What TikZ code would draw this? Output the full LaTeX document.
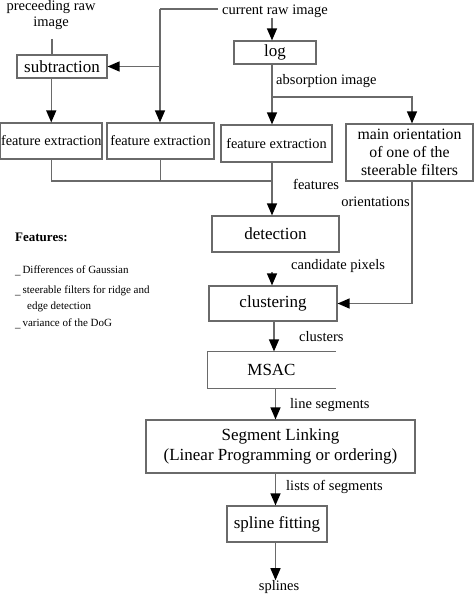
\documentclass[tikz,border=0pt]{standalone}
\usepackage{fontspec}
\setmainfont{Liberation Serif}
\usetikzlibrary{arrows.meta}
\definecolor{lc}{HTML}{6A6A6A}
\newcommand{\lowbar}{\raisebox{-1.5pt}{\_}\,}
\begin{document}
\begin{tikzpicture}[x=1pt,y=-1pt,
  ln/.style={draw=lc, line width=1.3pt},
  arr/.style={ln, -{Triangle[width=10pt,length=12pt,color=black]}},
  box/.style={draw=lc, line width=1.2pt, inner sep=0pt, align=center, font=\fontsize{17}{20}\selectfont},
  sbox/.style={box, font=\fontsize{14.3}{18}\selectfont},
  lab/.style={inner sep=0pt, font=\fontsize{14.5}{16}\selectfont},
  leg/.style={inner sep=0pt, anchor=base west, font=\fontsize{11}{13}\selectfont},
]
\useasboundingbox (0,0) rectangle (474,594);
% x positions of vertical connectors
\coordinate (ax) at (272,0);
\coordinate (ox) at (412,0);
\coordinate (bx) at (275.5,0);
% nodes
\node[lab, align=center, font=\fontsize{14.5}{16}\selectfont] (pre) at (51,15) {preceeding raw\\image};
\node[box, minimum width=90pt, minimum height=23pt] (sub) at (62,66.5) {subtraction};
\node[lab, anchor=west] (cur) at (222,11) {current raw image};
\node[box, minimum width=82pt, minimum height=23pt] (log) at (275,52.5) {log};
\node[sbox, minimum width=101.5pt, minimum height=36pt] (fe1) at (51.25,141) {feature extraction};
\node[sbox, minimum width=107pt, minimum height=36pt] (fe2) at (160.5,141) {feature extraction};
\node[sbox, minimum width=111pt, minimum height=37pt] (fe3) at (276.5,143.5) {feature extraction};
\node[box, font=\fontsize{15.8}{18}\selectfont, minimum width=127pt, minimum height=57pt] (mo) at (409.5,152.5) {main orientation\\of one of the\\steerable filters};
\node[box, minimum width=127pt, minimum height=36pt] (det) at (275.5,234) {detection};
\node[box, minimum width=128pt, minimum height=35pt] (clu) at (273,303.5) {clustering};
\node[box, draw=none, minimum width=127pt, minimum height=36pt] (msac) at (271.5,370) {MSAC};
\node[box, font=\fontsize{17}{20}\selectfont, minimum width=269pt, minimum height=53pt] (seg) at (280.5,446.5) {Segment Linking\\(Linear Programming or ordering)};
\node[box, minimum width=100pt, minimum height=36pt] (spl) at (277,524) {spline fitting};
\node[lab] (splines) at (279,587) {splines};
% labels
\node[lab, anchor=west] (labs) at (276,81) {absorption image};
\node[lab, anchor=west] (lfeat) at (293,184) {features};
\node[lab, anchor=east] (lori) at (410,202) {orientations};
\node[lab, anchor=west] (lcand) at (291,266) {candidate pixels};
\node[lab, anchor=west] (lclus) at (299,337) {clusters};
\node[lab, anchor=west] (lline) at (290,405) {line segments};
\node[lab, anchor=west] (llist) at (286,487) {lists of segments};
% legend
\node[leg, font=\fontsize{13}{15}\selectfont\bfseries] (legt) at (15,241) {Features:};
\node[leg] (leg1) at (15,273) {\lowbar Differences of Gaussian};
\node[leg] (leg2) at (15,293) {\lowbar steerable filters for ridge and};
\node[leg] (leg3) at (27,309) {edge detection};
\node[leg] (leg4) at (15,326) {\lowbar variance of the DoG};
% MSAC box (open on the right)
\draw[ln, line width=1.2pt] (msac.north east) -- (msac.north west) -- (msac.south west) -- (msac.south east);
% connectors
\coordinate (c1) at (218,9);
\coordinate (c2) at (160,9);
\coordinate (p1) at (52,39);
\draw[ln] (p1) -- (sub.north -| p1);
\draw[ln] (c1) -- (c2);
\draw[arr] (c2) -- (fe2.north -| c2);
\draw[arr] (c2 |- sub.east) -- (sub.east);
\draw[arr] (cur.south -| ax) -- (log.north -| ax);
\draw[arr] (sub.south -| fe1.north) -- (fe1.north);
\draw[arr] (log.south -| ax) -- (fe3.north -| ax);
\coordinate (b1) at (272,97);
\draw[arr] (b1) -- (b1 -| ox) -- (mo.north -| ox);
\coordinate (m) at (272,181);
\draw[ln] (fe1.south) -- (fe1.south |- m) -- (m);
\draw[ln] (fe2.south) -- (fe2.south |- m);
\draw[arr] (fe3.south -| ax) -- (det.north -| ax);
\coordinate (dc) at (272,272);
\draw[arr] (dc) -- (clu.north -| dc);
\draw[arr] (mo.south -| ox) -- (clu.east -| ox) -- (clu.east);
\draw[arr] (clu.south -| 274,0) -- (msac.north -| 274,0);
\draw[arr] (msac.south -| bx) -- (seg.north -| bx);
\draw[arr] (seg.south -| bx) -- (spl.north -| bx);
\draw[arr] (spl.south -| bx) -- (splines.north -| bx);
\end{tikzpicture}
\end{document}
